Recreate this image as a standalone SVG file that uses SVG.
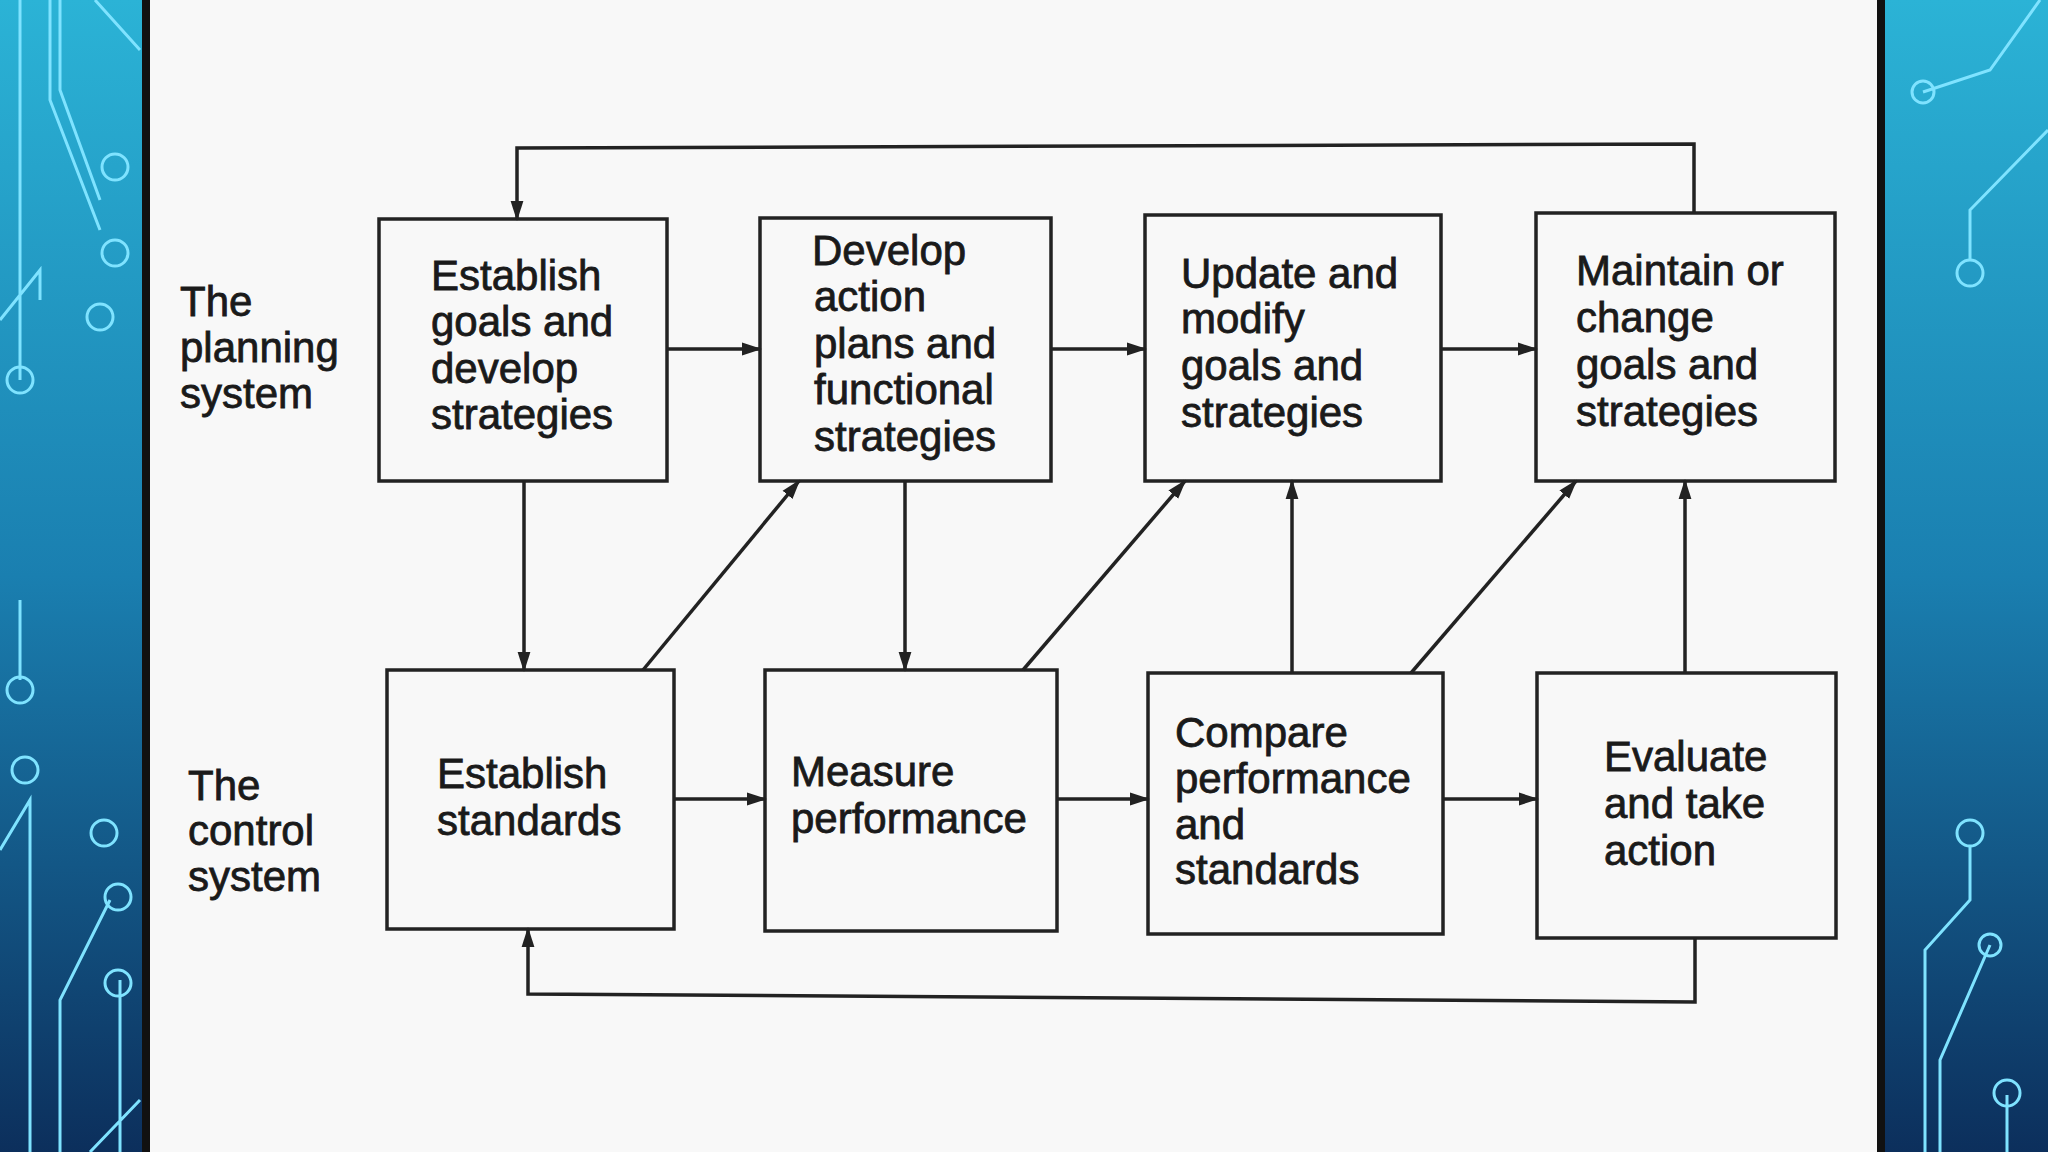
<svg xmlns="http://www.w3.org/2000/svg" width="2048" height="1152" viewBox="0 0 2048 1152">
<defs>
<linearGradient id="side" x1="0" y1="0" x2="0" y2="1">
<stop offset="0" stop-color="#2bb3d6"/><stop offset="0.5" stop-color="#1a7fb0"/><stop offset="1" stop-color="#0c2f5c"/>
</linearGradient>
<marker id="ah2" viewBox="0 0 10 10" refX="9" refY="5" markerWidth="20" markerHeight="16" markerUnits="userSpaceOnUse" orient="auto" preserveAspectRatio="none">
<path d="M0,1 L10,5 L0,9 Z" fill="#222"/>
</marker>
</defs>
<style>
.box{fill:none;stroke:#222;stroke-width:3.5}
.t{font-family:"Liberation Sans",Arial,sans-serif;font-size:42px;fill:#1a1a1a;stroke:#1a1a1a;stroke-width:0.8}
.c{fill:none;stroke:#222;stroke-width:3.5;marker-end:url(#ah2)}
.cl{fill:none;stroke:#7fe3ff;stroke-width:3}
</style>
<rect width="2048" height="1152" fill="#f8f8f8"/>
<g id="left-panel">
<rect x="0" y="0" width="144" height="1152" fill="url(#side)"/>
<rect x="142" y="0" width="8" height="1152" fill="#111"/>
<path class="cl" d="M20,0 V380 M50,0 V100 L100,230 M60,0 V90 L100,200 M95,0 L140,50 M0,320 L40,270 V300 M20,600 V680 M0,850 L30,800 V1152 M60,1152 V1000 L110,900 M120,1152 V980 M90,1152 L140,1100"/>
<circle class="cl" cx="115" cy="167" r="13"/><circle class="cl" cx="115" cy="253" r="13"/><circle class="cl" cx="100" cy="317" r="13"/><circle class="cl" cx="20" cy="380" r="13"/><circle class="cl" cx="20" cy="690" r="13"/><circle class="cl" cx="25" cy="770" r="13"/><circle class="cl" cx="104" cy="833" r="13"/><circle class="cl" cx="118" cy="897" r="13"/><circle class="cl" cx="118" cy="983" r="13"/>
</g>
<g id="right-panel">
<rect x="1881" y="0" width="167" height="1152" fill="url(#side)"/>
<rect x="1877" y="0" width="8" height="1152" fill="#111"/>
<path class="cl" d="M2040,0 L1990,70 L1923,92 M2048,130 L1970,210 V260 M1970,845 V900 L1925,950 V1152 M1990,945 L1940,1060 V1152 M2007,1095 V1152"/>
<circle class="cl" cx="1923" cy="92" r="11"/><circle class="cl" cx="1970" cy="273" r="13"/><circle class="cl" cx="1970" cy="833" r="13"/><circle class="cl" cx="1990" cy="945" r="11"/><circle class="cl" cx="2007" cy="1093" r="13"/>
</g>
<g id="labels">
<text class="t" x="180" y="316">The</text><text class="t" x="180" y="362">planning</text><text class="t" x="180" y="408">system</text>
<text class="t" x="188" y="800">The</text><text class="t" x="188" y="845">control</text><text class="t" x="188" y="891">system</text>
</g>
<g id="b1"><rect class="box" x="379" y="219" width="288" height="262"/>
<text class="t" x="431" y="290">Establish</text><text class="t" x="431" y="336">goals and</text><text class="t" x="431" y="383">develop</text><text class="t" x="431" y="429">strategies</text></g>
<g id="b2"><rect class="box" x="760" y="218" width="291" height="263"/>
<text class="t" x="812" y="265">Develop</text><text class="t" x="814" y="311">action</text><text class="t" x="814" y="358">plans and</text><text class="t" x="814" y="404">functional</text><text class="t" x="814" y="451">strategies</text></g>
<g id="b3"><rect class="box" x="1145" y="215" width="296" height="266"/>
<text class="t" x="1181" y="288">Update and</text><text class="t" x="1181" y="333">modify</text><text class="t" x="1181" y="380">goals and</text><text class="t" x="1181" y="427">strategies</text></g>
<g id="b4"><rect class="box" x="1536" y="213" width="299" height="268"/>
<text class="t" x="1576" y="285">Maintain or</text><text class="t" x="1576" y="332">change</text><text class="t" x="1576" y="379">goals and</text><text class="t" x="1576" y="426">strategies</text></g>
<g id="c1"><rect class="box" x="387" y="670" width="287" height="259"/>
<text class="t" x="437" y="788">Establish</text><text class="t" x="437" y="835">standards</text></g>
<g id="c2"><rect class="box" x="765" y="670" width="292" height="261"/>
<text class="t" x="791" y="786">Measure</text><text class="t" x="791" y="833">performance</text></g>
<g id="c3"><rect class="box" x="1148" y="673" width="295" height="261"/>
<text class="t" x="1175" y="747">Compare</text><text class="t" x="1175" y="793">performance</text><text class="t" x="1175" y="839">and</text><text class="t" x="1175" y="884">standards</text></g>
<g id="c4"><rect class="box" x="1537" y="673" width="299" height="265"/>
<text class="t" x="1604" y="771">Evaluate</text><text class="t" x="1604" y="818">and take</text><text class="t" x="1604" y="865">action</text></g>
<g id="connectors">
<line class="c" x1="667" y1="349" x2="760" y2="349"/>
<line class="c" x1="1051" y1="349" x2="1145" y2="349"/>
<line class="c" x1="1441" y1="349" x2="1536" y2="349"/>
<line class="c" x1="674" y1="799" x2="765" y2="799"/>
<line class="c" x1="1057" y1="799" x2="1148" y2="799"/>
<line class="c" x1="1443" y1="799" x2="1537" y2="799"/>
<line class="c" x1="524" y1="481" x2="524" y2="670"/>
<line class="c" x1="905" y1="481" x2="905" y2="670"/>
<line class="c" x1="1292" y1="673" x2="1292" y2="481"/>
<line class="c" x1="1685" y1="673" x2="1685" y2="481"/>
<line class="c" x1="643" y1="670" x2="799" y2="481"/>
<line class="c" x1="1023" y1="670" x2="1185" y2="481"/>
<line class="c" x1="1411" y1="673" x2="1576" y2="481"/>
<polyline class="c" points="1694,213 1694,144 517,148 517,219"/>
<polyline class="c" points="1695,938 1695,1002 528,994 528,929"/>
</g>
</svg>
